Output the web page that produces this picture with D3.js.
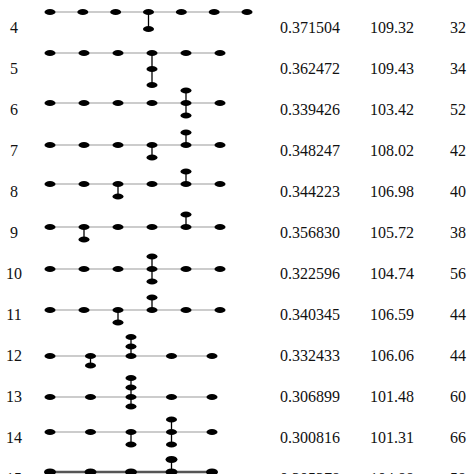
<!DOCTYPE html>
<html><head><meta charset="utf-8">
<script src="https://cdn.jsdelivr.net/npm/d3@7"></script>
<style>body{margin:0;background:#fff}svg{display:block}</style>
</head><body>
<svg id="c" width="474" height="474"></svg>
<script>
// table rows: id, backbone nodes, branches [backbone index, dir(+1 up,-1 down), n nodes], value columns
const rowIds=[4,5,6,7,8,9,10,11,12,13,14,15];
const backboneN=[7,6,6,6,6,6,6,6,5,5,5,5];
const backboneEnd=[247,220,220,220,220,220,220,220,212,212,212,212];
const branchStep=[17,16,12.5,12.5,12.5,12.5,12.5,12.5,9.5,9.5,12.5,12.5];
const branches=[
  [[3,-1,1]],
  [[3,-1,2]],
  [[4,1,1],[4,-1,1]],
  [[3,-1,1],[4,1,1]],
  [[2,-1,1],[4,1,1]],
  [[1,-1,1],[4,1,1]],
  [[3,1,1],[3,-1,1]],
  [[2,-1,1],[3,1,1]],
  [[1,-1,1],[2,1,2]],
  [[2,1,2],[2,-1,1]],
  [[2,-1,1],[3,1,1],[3,-1,1]],
  [[3,1,1]]
];
const colA=["0.371504","0.362472","0.339426","0.348247","0.344223","0.356830","0.322596","0.340345","0.332433","0.306899","0.300816","0.305378"];
const colB=["109.32","109.43","103.42","108.02","106.98","105.72","104.74","106.59","106.06","101.48","101.31","104.88"];
const colC=["32","34","52","42","40","38","56","44","44","60","66","58"];
const backboneOff=[-15,-15,-6,-5,-7,-5,-4,-4,1,1,-5,-6];

const svg=d3.select('#c');
const y=d3.scaleLinear().domain([4,15]).range([27,478]);

rowIds.forEach((id,i)=>{
  const cy=y(id);
  const by=cy+backboneOff[i];
  const x=d3.scaleLinear().domain([0,backboneN[i]-1]).range([50,backboneEnd[i]]);
  const g=svg.append('g');
  const bold=id===15;
  g.append('line').attr('x1',x(0)).attr('x2',x(backboneN[i]-1)).attr('y1',by).attr('y2',by)
    .attr('stroke',bold?'#555':'#999').attr('stroke-width',bold?2.5:1.2);
  const nodes=d3.range(backboneN[i]).map(k=>[x(k),by]);
  branches[i].forEach(([k,dir,n])=>{
    const ey=by-dir*n*branchStep[i];
    g.append('line').attr('x1',x(k)).attr('x2',x(k)).attr('y1',by).attr('y2',ey)
      .attr('stroke','#000').attr('stroke-width',1.3);
    d3.range(1,n+1).forEach(j=>nodes.push([x(k),by-dir*j*branchStep[i]]));
  });
  g.selectAll('ellipse').data(nodes).join('ellipse')
    .attr('cx',d=>d[0]).attr('cy',d=>d[1]).attr('rx',bold?6:5.5).attr('ry',bold?3.5:3).attr('fill','#000');
  const t=(xx,s,anchor)=>svg.append('text').attr('x',xx).attr('y',cy+5.5).attr('text-anchor',anchor)
    .attr('font-family','Liberation Serif, serif').attr('font-size',16).attr('fill','#111').text(s);
  t(14,id,'middle');
  t(280,colA[i],'start');
  t(370,colB[i],'start');
  t(450,colC[i],'start');
});
</script>
</body></html>
